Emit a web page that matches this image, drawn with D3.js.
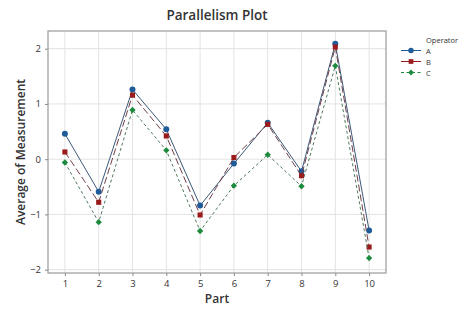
<!DOCTYPE html>
<html>
<head>
<meta charset="utf-8">
<script src="https://cdn.jsdelivr.net/npm/d3@7"></script>
<style>
  body { margin: 0; background: #fff; }
  text { font-family: "Open Sans", "Noto Sans", sans-serif; fill: #333; }
</style>
</head>
<body>
<script>
// data
const parts = [1, 2, 3, 4, 5, 6, 7, 8, 9, 10];
const operatorA = [0.46, -0.59, 1.26, 0.54, -0.84, -0.08, 0.66, -0.22, 2.09, -1.29];
const operatorB = [0.13, -0.78, 1.16, 0.42, -1.01, 0.03, 0.63, -0.30, 2.03, -1.59];
const operatorC = [-0.06, -1.14, 0.89, 0.16, -1.30, -0.48, 0.08, -0.49, 1.69, -1.79];
const yTicks = [-2, -1, 0, 1, 2];

const w = 474, h = 316;
const plotL = 48, plotR = 386, plotT = 31, plotB = 273;

const svg = d3.select("body").append("svg")
  .attr("width", w)
  .attr("height", h);

const x = d3.scaleLinear().domain([0.5, 10.5]).range([plotL, plotR]);
const y = d3.scaleLinear().domain([-2.06, 2.32]).range([plotB, plotT]);

// grid
svg.append("g").selectAll("line")
  .data(parts).enter().append("line")
  .attr("x1", d => x(d)).attr("x2", d => x(d))
  .attr("y1", plotT).attr("y2", plotB)
  .attr("stroke", "#e3e3e3").attr("stroke-width", 1);
svg.append("g").selectAll("line")
  .data(yTicks).enter().append("line")
  .attr("x1", plotL).attr("x2", plotR)
  .attr("y1", d => y(d)).attr("y2", d => y(d))
  .attr("stroke", "#e3e3e3").attr("stroke-width", 1);

// axes
const xAxis = svg.append("g")
  .attr("transform", "translate(0," + plotB + ")")
  .call(d3.axisBottom(x).tickValues(parts).tickSize(3).tickPadding(4));
const yAxis = svg.append("g")
  .attr("transform", "translate(" + plotL + ",0)")
  .call(d3.axisLeft(y).tickValues(yTicks).tickSize(3).tickPadding(4).tickFormat(d3.format("d")));
[xAxis, yAxis].forEach(g => {
  g.select(".domain").remove();
  g.selectAll("line").attr("stroke", "#888");
  g.selectAll("text").style("font-size", "9.5px").attr("fill", "#222");
});

svg.append("rect")
  .attr("x", plotL).attr("y", plotT)
  .attr("width", plotR - plotL).attr("height", plotB - plotT)
  .attr("fill", "none").attr("stroke", "#9a9a9a").attr("stroke-width", 1.2);

// series
const series = [
  { name: "A", values: operatorA, line: "#3c5878", dash: null, fill: "#1f5b99", shape: d3.symbolCircle, size: 28, rot: 0 },
  { name: "B", values: operatorB, line: "#6e4048", dash: "7,3", fill: "#9a1b1b", shape: d3.symbolSquare, size: 26, rot: 0 },
  { name: "C", values: operatorC, line: "#4f7a5c", dash: "3,2.5", fill: "#1e8a3e", shape: d3.symbolSquare, size: 20, rot: 45 }
];

const line = d3.line().x((d, i) => x(parts[i])).y(d => y(d));

series.forEach(s => {
  svg.append("path")
    .attr("d", line(s.values))
    .attr("fill", "none")
    .attr("stroke", s.line)
    .attr("stroke-width", 1)
    .attr("stroke-dasharray", s.dash);
  svg.append("g").selectAll("path")
    .data(s.values).enter().append("path")
    .attr("transform", (d, i) => "translate(" + x(parts[i]) + "," + y(d) + ") rotate(" + s.rot + ")")
    .attr("d", d3.symbol().type(s.shape).size(s.size))
    .attr("fill", s.fill);
});

// titles
svg.append("text")
  .attr("x", (plotL + plotR) / 2).attr("y", 20)
  .attr("text-anchor", "middle")
  .style("font-size", "13.5px")
  .style("font-weight", 600)
  .text("Parallelism Plot");
svg.append("text")
  .attr("x", (plotL + plotR) / 2).attr("y", 303)
  .attr("text-anchor", "middle")
  .style("font-size", "12px")
  .style("font-weight", 600)
  .text("Part");
svg.append("text")
  .attr("transform", "translate(25," + ((plotT + plotB) / 2) + ") rotate(-90)")
  .attr("text-anchor", "middle")
  .style("font-size", "12px")
  .style("font-weight", 600)
  .text("Average of Measurement");

// legend
const legend = svg.append("g").attr("transform", "translate(401,41)");
legend.append("text")
  .attr("x", 25).attr("y", 2)
  .style("font-size", "7.5px")
  .text("Operator");
series.forEach((s, i) => {
  const ly = 9.5 + i * 11;
  legend.append("line")
    .attr("x1", 0).attr("x2", 20).attr("y1", ly).attr("y2", ly)
    .attr("stroke", s.fill).attr("stroke-width", 1)
    .attr("stroke-dasharray", s.rot ? "3,2.5" : null);
  legend.append("path")
    .attr("transform", "translate(10," + ly + ") rotate(" + s.rot + ")")
    .attr("d", d3.symbol().type(s.shape).size(s.size * 0.85))
    .attr("fill", s.fill);
  legend.append("text")
    .attr("x", 25).attr("y", ly + 3)
    .style("font-size", "7.5px")
    .text(s.name);
});
</script>
</body>
</html>
